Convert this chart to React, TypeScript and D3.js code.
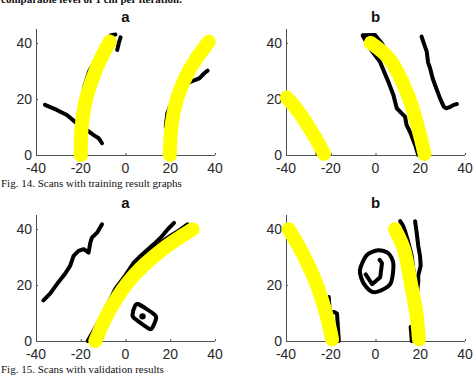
import React from 'react';
import * as d3 from 'd3';

type Pt = [number, number];

// ---- shared axis data ----
const xTicks = [-40, -20, 0, 20, 40];
const yTicks = [0, 20, 40];
const xDomain: [number, number] = [-40, 40];
const yDomain: [number, number] = [0, 45];

const headerText = 'comparable level of 1 cm per iteration.';
const captionFig14 = 'Fig. 14. Scans with training result graphs';
const captionFig15 = 'Fig. 15. Scans with validation results';
const panelTitles = ['a', 'b', 'a', 'b'];

// ---- Fig. 14 a (training) ----
const trainALanes: Pt[][] = [
  [[-20, 0], [-19.6, 10], [-17.6, 20], [-13, 31], [-7, 40.5]],
  [[19.8, 0], [20.5, 10], [23, 20], [29, 31], [37.2, 40.4]],
];
const trainAScans: Pt[][] = [
  [[-36, 17.9], [-30.7, 16.1], [-26.2, 14.3], [-21.7, 11.3], [-17.2, 8.9], [-14.2, 7.1], [-12, 6], [-10.5, 4.2]],
  [[-20.6, 5], [-20.4, 12], [-19.7, 19], [-18.2, 25], [-16.2, 30], [-14, 33], [-11, 37], [-8.5, 40], [-6.5, 42.8], [-4.5, 43]],
  [[-2.2, 42], [-3, 40], [-3.7, 37.5]],
  [[18, 10.1], [18.7, 14.9], [21, 19.6], [24.7, 23.8], [29.2, 26.2], [33, 27.4], [35.2, 29.2], [36.7, 30.1]],
];

// ---- Fig. 14 b (training) ----
const trainBLanes: Pt[][] = [
  [[-39.6, 20.5], [-34.5, 15.6], [-30, 10.2], [-26, 4.9], [-23, 0.4]],
  [[-2.1, 40], [6, 34.5], [13.9, 22.6], [18.7, 10.7], [21.9, 0.4]],
];
const trainBScans: Pt[][] = [
  [[-26, 0.5], [-24, 0.9], [-21.3, 0.5]],
  [[-5.7, 42.6], [-2.5, 38.1], [2, 33.3], [5.7, 26.2], [8, 21.4], [9.5, 16.7], [11.7, 14.9], [13.2, 13.7], [13.9, 10.7], [15.4, 8.3], [17.7, 3.6], [19.1, 0]],
  [[-5.7, 42.8], [-0.2, 42.9], [2.8, 39.9], [5, 36.9], [6.5, 33.9], [8, 31]],
  [[20.6, 42.3], [22, 39], [22.9, 36.9], [23.5, 33], [24.4, 31], [25.5, 27.5], [26.6, 25], [28.8, 20.3], [30.5, 17.3], [31.5, 16.7], [33.5, 17.2], [35, 17.9], [36.4, 18.2]],
];

// ---- Fig. 15 a (validation) ----
const valALanes: Pt[][] = [
  [[-13.5, 0], [-6.7, 11.6], [3.7, 23.4], [17, 33], [30, 39.9]],
];
const valAScans: Pt[][] = [
  [[-36.7, 14.5], [-33.7, 16.9], [-30, 21], [-27, 24], [-24.7, 26.9], [-23.2, 30.4], [-21, 32.2], [-18.7, 32.8], [-16.5, 31.6], [-15.7, 35.2], [-15, 36.9], [-12.7, 38.7], [-10.5, 41.7]],
  [[-16.9, 0], [-14, 4], [-11.2, 8], [-8, 13], [-4.5, 18.7], [0, 23.5], [3.7, 28], [6.7, 30.4], [12.7, 34.6], [15.7, 36.9], [19, 40], [21.7, 42.2]],
  [[-4.5, 18], [0, 22.5], [3.7, 26.5], [6.7, 28.7], [10, 31.3], [15.7, 35.1], [20, 37.5], [24, 39.5], [27.7, 41.7]],
];
const valALoops: Pt[][] = [
  [[3.8, 11.6], [5.5, 13.2], [13, 9.4], [13.6, 7.8], [12, 4.8], [10.5, 4.4], [3.6, 8.4], [3.3, 10]],
];
const valADots: Pt[] = [[7.6, 8.8]];

// ---- Fig. 15 b (validation) ----
const valBLanes: Pt[][] = [
  [[-38.8, 39.9], [-32.8, 31.6], [-26.1, 19.8], [-21.5, 8], [-19.4, 0.6]],
  [[8.7, 39.9], [12.7, 32.8], [15.7, 21], [18.4, 9.2], [19.4, 0.6]],
];
const valBScans: Pt[][] = [
  [[-20.9, 15.7], [-20.6, 12], [-20.5, 10.2], [-18.7, 10.4], [-17.2, 9.8], [-16.8, 5], [-16.4, 0]],
  [[11, 42.8], [12.3, 41.2], [13.2, 39.3], [14.7, 35.2], [16.2, 30.4], [16.9, 25.7], [17.7, 21], [18.4, 16.3]],
  [[17.7, 42.8], [18.4, 38.7], [19.1, 34], [19.9, 30.4], [20.2, 26.9], [19.1, 23.4], [19.1, 21], [18.4, 16.3]],
  [[15.7, 5.1], [16, 2.5], [16.2, 0]],
  [[-4.4, 23.8], [-1.5, 20.3], [2.1, 22.8], [2.9, 27.8], [1.8, 29]],
];
const valBLoops: Pt[][] = [
  [[1.2, 32.4], [5.8, 31.3], [8, 27.4], [6.5, 20.2], [-0.6, 17.4], [-5, 20.2], [-7, 25.1], [-4, 30.6]],
];
const valBDots: Pt[] = [];

// ---- layout (positions only) ----
const layouts = [
  { x0: 36, x1: 215, yb: 155, yt: 29, titleY: 22 },
  { x0: 286, x1: 465, yb: 155, yt: 29, titleY: 22 },
  { x0: 36, x1: 215, yb: 341, yt: 215, titleY: 208 },
  { x0: 286, x1: 465, yb: 341, yt: 215, titleY: 208 },
];
const panelData = [
  { lanes: trainALanes, scans: trainAScans, loops: [] as Pt[][], dots: [] as Pt[] },
  { lanes: trainBLanes, scans: trainBScans, loops: [] as Pt[][], dots: [] as Pt[] },
  { lanes: valALanes, scans: valAScans, loops: valALoops, dots: valADots },
  { lanes: valBLanes, scans: valBScans, loops: valBLoops, dots: valBDots },
];

const SANS = '"Liberation Sans", Arial, Helvetica, sans-serif';
const SERIF = '"Liberation Serif", "Times New Roman", serif';
const AXIS = '#505050';
const LABEL = '#2a2a2a';
const YELLOW = '#ffff00';

function Panel({ i }: { i: number }) {
  const L = layouts[i];
  const D = panelData[i];
  const x = d3.scaleLinear().domain(xDomain).range([L.x0, L.x1]);
  const y = d3.scaleLinear().domain(yDomain).range([L.yb, L.yt]);
  const scanLine = d3.line<Pt>().x(d => x(d[0])).y(d => y(d[1])).curve(d3.curveLinear);
  const laneLine = d3.line<Pt>().x(d => x(d[0])).y(d => y(d[1])).curve(d3.curveCatmullRom.alpha(0.5));
  const loopLine = d3.line<Pt>().x(d => x(d[0])).y(d => y(d[1])).curve(d3.curveCardinalClosed.tension(0.2));
  return (
    <g>
      {/* axes */}
      <line x1={L.x0 + 0.5} x2={L.x0 + 0.5} y1={L.yt} y2={L.yb + 0.5} stroke={AXIS} strokeWidth={1} />
      <line x1={L.x0} x2={L.x1} y1={L.yb + 0.5} y2={L.yb + 0.5} stroke={AXIS} strokeWidth={1} />
      {xTicks.map(t => (
        <g key={'xt' + t}>
          <line x1={x(t) + 0.5} x2={x(t) + 0.5} y1={L.yb} y2={L.yb - 2} stroke={AXIS} />
          <text x={x(t)} y={L.yb + 18} textAnchor="middle" fontFamily={SANS} fontSize={14} fill={LABEL}>{t}</text>
        </g>
      ))}
      {yTicks.map(t => (
        <g key={'yt' + t}>
          <line x1={L.x0} x2={L.x0 + 2} y1={y(t) + 0.5} y2={y(t) + 0.5} stroke={AXIS} />
          <text x={L.x0 - 4} y={y(t) + 5} textAnchor="end" fontFamily={SANS} fontSize={14} fill={LABEL}>{t}</text>
        </g>
      ))}
      <text x={(L.x0 + L.x1) / 2} y={L.titleY} textAnchor="middle" fontFamily={SANS} fontWeight="bold" fontSize={15} fill="#111">{panelTitles[i]}</text>
      {/* scans */}
      {D.scans.map((s, k) => (
        <path key={'s' + k} d={scanLine(s) || ''} fill="none" stroke="#000" strokeWidth={4} strokeLinejoin="round" strokeLinecap="round" />
      ))}
      {D.loops.map((s, k) => (
        <path key={'l' + k} d={loopLine(s) || ''} fill="none" stroke="#000" strokeWidth={4} strokeLinejoin="round" />
      ))}
      {D.dots.map((p, k) => (
        <circle key={'d' + k} cx={x(p[0])} cy={y(p[1])} r={3.2} fill="#000" />
      ))}
      {/* lanes */}
      {D.lanes.map((s, k) => (
        <path key={'y' + k} d={laneLine(s) || ''} fill="none" stroke={YELLOW} strokeWidth={14} strokeLinecap="round" strokeLinejoin="round" />
      ))}
    </g>
  );
}

export default function App() {
  return (
    <svg width={474} height={377} style={{ position: 'absolute', left: 0, top: 0, background: '#fff' }}>
      <rect x={0} y={0} width={474} height={377} fill="#fff" />
      <text x={1} y={2.5} fontFamily={SERIF} fontWeight="bold" fontSize={11} fill="#111">{headerText}</text>
      {layouts.map((_, i) => <Panel key={i} i={i} />)}
      <text x={1} y={187} fontFamily={SERIF} fontSize={11} fill="#111">{captionFig14}</text>
      <text x={1} y={373} fontFamily={SERIF} fontSize={11} fill="#111">{captionFig15}</text>
    </svg>
  );
}
